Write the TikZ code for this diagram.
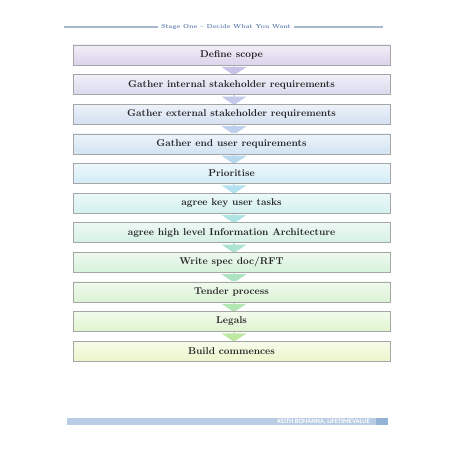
\documentclass[tikz,border=0pt]{standalone}
\usepackage{fontspec}
\setsansfont{Carlito}
\usetikzlibrary{shapes.arrows}
\begin{document}
\begin{tikzpicture}[x=1pt,y=-1pt,
  stepbox/.style={draw=black!35, line width=0.6pt, minimum width=317pt, minimum height=20pt,
    inner sep=0pt, font=\bfseries\fontsize{9.9}{11}\selectfont, text=black!85},
  downarrow/.style={single arrow, shape border rotate=270, draw=none, fill=#1,
    minimum height=18pt, minimum width=25pt, single arrow head extend=4.5pt,
    single arrow tip angle=112, single arrow head indent=0pt, inner sep=0pt},
  hdrline/.style={draw={rgb,255:red,170;green,184;blue,206}, line width=1.2pt}
]
\useasboundingbox (0,0) rectangle (452,452);
\fill[white] (0,0) rectangle (452,452);
% header
\node[font=\bfseries\fontsize{5.8}{7}\selectfont, text={rgb,255:red,98;green,128;blue,176}, inner sep=3pt] (hdr) at (226,27) {Stage One -- Decide What You Want};
\coordinate (hl1) at (64,27);
\coordinate (hr1) at (383,27);
\draw[hdrline] (hl1) -- (hdr.west);
\draw[hdrline] (hdr.east) -- (hr1);
% colours
\definecolor{c1}{RGB}{220,212,236}
\definecolor{c2}{RGB}{216,218,238}
\definecolor{c3}{RGB}{212,223,241}
\definecolor{c4}{RGB}{210,227,243}
\definecolor{c5}{RGB}{210,236,246}
\definecolor{c6}{RGB}{210,240,238}
\definecolor{c7}{RGB}{212,240,228}
\definecolor{c8}{RGB}{214,241,218}
\definecolor{c9}{RGB}{218,242,212}
\definecolor{c10}{RGB}{224,244,208}
\definecolor{c11}{RGB}{234,246,204}
\definecolor{a1}{RGB}{200,194,232}
\definecolor{a2}{RGB}{196,200,234}
\definecolor{a3}{RGB}{190,208,236}
\definecolor{a4}{RGB}{184,216,238}
\definecolor{a5}{RGB}{178,226,240}
\definecolor{a6}{RGB}{174,228,226}
\definecolor{a7}{RGB}{172,228,208}
\definecolor{a8}{RGB}{172,228,194}
\definecolor{a9}{RGB}{178,230,178}
\definecolor{a10}{RGB}{190,232,162}
% arrows (behind)
\foreach \i in {1,...,10}{
  \node[downarrow=a\i] (a\i) at (234,{55+29.6*(\i-1)+11.2}) {};
}
% boxes
\foreach \i/\t/\c in {1/Define scope/c1,
  2/Gather internal stakeholder requirements/c2,
  3/Gather external stakeholder requirements/c3,
  4/Gather end user requirements/c4,
  5/Prioritise/c5,
  6/agree key user tasks/c6,
  7/agree high level Information Architecture/c7,
  8/Write spec doc\slash RFT/c8,
  9/Tender process/c9,
  10/Legals/c10,
  11/Build commences/c11}{
  \node[stepbox, top color=\c!40, bottom color=\c] (b\i) at (231.5,{55+29.6*(\i-1)}) {\t};
}
% footer
\fill[fill={rgb,255:red,184;green,204;blue,228}] (67,418) rectangle (376,425);
\node[fill={rgb,255:red,149;green,179;blue,215}, minimum width=12pt, minimum height=7pt, inner sep=0pt, anchor=north west] (fsq) at (376,418) {};
\node[font=\sffamily\bfseries\fontsize{6.6}{7}\selectfont, text=white, anchor=east, inner sep=0pt] (ftxt) at (370,421.8) {KEITH BOHANNA, LIFETIMEVALUE};
\end{tikzpicture}
\end{document}
